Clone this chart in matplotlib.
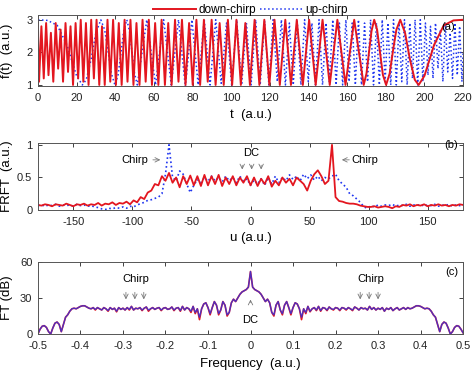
import numpy as np
import matplotlib
matplotlib.use('Agg')
import matplotlib.pyplot as plt

plt.rcParams['font.family'] = ['Liberation Sans', 'DejaVu Sans']
plt.rcParams['font.size'] = 8
plt.rcParams['axes.unicode_minus'] = False

# ---- panel (a): chirp signals, turning points ----
down_t = [0, 0.59, 1.80, 3.02, 4.24, 5.47, 6.71, 7.95, 9.20, 10.46, 11.73, 13.00, 14.28,
          15.57, 16.87, 18.17, 19.49, 20.81, 22.15, 23.49, 24.84, 26.20, 27.57, 28.95,
          30.34, 31.74, 33.15, 34.57, 36.00, 37.44, 38.90, 40.36, 41.84, 43.33, 44.84,
          46.35, 47.88, 49.43, 50.99, 52.56, 54.14, 55.75, 57.37, 59.00, 60.65, 62.32,
          64.00, 65.71, 67.43, 69.18, 70.94, 72.73, 74.54, 76.37, 78.22, 80.10, 82.00,
          83.93, 85.89, 87.87, 89.89, 91.94, 94.02, 96.14, 98.30, 100.49, 102.72, 105.00,
          107.32, 109.70, 112.12, 114.60, 117.14, 119.75, 122.42, 125.17, 128.00, 130.92,
          133.94, 137.07, 140.33, 143.72, 147.27, 151.00, 154.95, 159.15, 163.66, 168.57,
          170.0, 172.6, 174.0, 175.5, 177.0, 178.5, 180.16, 182.0, 184.0, 185.5, 187.47,
          190.0, 192.5, 195.0, 197.0, 200.0, 205.0, 210.0, 215.0, 220.0]
down_f = [2.9, 1.1, 2.8, 1.2, 2.9, 1.3, 2.6, 1.1, 2.9, 1.5, 2.7, 1.1, 2.9,
          1.4, 2.8, 1.0, 2.9, 1.2, 3.0, 1.1, 2.9, 1.0, 3.0, 1.2,
          3.0, 1.0, 2.8, 1.0, 3.0, 1.1, 3.0, 1.0, 2.9, 1.0, 3.0,
          1.1, 3.0, 1.0, 2.9, 1.0, 3.0, 1.1, 3.0, 1.0, 2.9, 1.0,
          3.0, 1.0, 2.9, 1.0, 3.0, 1.1, 3.0, 1.0, 2.9, 1.0, 3.0,
          1.0, 3.0, 1.1, 3.0, 1.0, 2.9, 1.0, 3.0, 1.0, 3.0, 1.0,
          2.9, 1.0, 3.0, 1.0, 3.0, 1.0, 3.0, 1.0, 3.0, 1.0,
          3.0, 1.0, 3.0, 1.0, 3.0, 1.0, 3.0, 1.0, 3.0, 1.0,
          1.35, 2.65, 3.0, 2.70, 2.0, 1.31, 1.0, 1.35, 2.16, 2.70, 3.0,
          2.59, 1.78, 1.16, 1.0, 1.28, 2.23, 2.83, 2.98, 3.0]

up_t = [0, 5, 10, 15, 20, 23.0, 25, 27.5, 30, 32.53, 34.5, 36, 38, 39.84, 41.5, 43, 44.5,
        46.0, 47.4, 50, 51.43, 56.34, 60.85, 65.05, 69.00, 72.73, 76.28, 79.67, 82.93,
        86.06, 89.08, 92.00, 94.83, 97.58, 100.25, 102.86, 105.40, 107.88, 110.30, 112.68,
        115.00, 117.28, 119.51, 121.70, 123.86, 125.98, 128.06, 130.11, 132.13, 134.11,
        136.07, 138.00, 139.90, 141.78, 143.63, 145.46, 147.27, 149.06, 150.82, 152.57,
        154.29, 156.00, 157.68, 159.35, 161.00, 162.63, 164.25, 165.86, 167.44, 169.01,
        170.57, 172.12, 173.65, 175.16, 176.67, 178.16, 179.64, 181.10, 182.56, 184.00,
        185.43, 186.85, 188.26, 189.66, 191.05, 192.43, 193.80, 195.16, 196.51, 197.85,
        199.19, 200.51, 201.83, 203.13, 204.43, 205.72, 207.00, 208.27, 209.54, 210.80,
        212.05, 213.29, 214.53, 215.76, 216.98, 218.20, 219.41, 220.0]
up_f = [3.0, 2.98, 2.83, 2.23, 1.28, 1.0, 1.16, 1.78, 2.59, 3.0, 2.70, 2.16, 1.35, 1.0, 1.31, 2.0, 2.70,
        3.0, 2.65, 1.35, 1.0, 3.0, 1.0, 3.0, 1.0, 3.0, 0.95, 3.0, 1.0,
        3.0, 1.0, 3.0, 1.05, 2.9, 1.0, 3.0, 1.0, 2.9, 1.0, 3.0,
        1.0, 2.95, 1.0, 3.0, 1.1, 3.0, 1.0, 2.9, 1.0, 3.0,
        1.0, 3.0, 1.1, 2.9, 1.0, 3.0, 1.0, 2.9, 1.1, 3.0,
        1.0, 2.9, 1.0, 3.0, 1.1, 2.9, 1.0, 3.0, 1.0, 2.9,
        1.1, 3.0, 1.0, 2.9, 1.0, 3.0, 1.1, 2.9, 1.0, 3.0,
        1.0, 2.9, 1.1, 3.0, 1.0, 2.9, 1.2, 3.0, 1.0, 3.0,
        1.1, 2.9, 1.3, 2.8, 1.2, 2.9, 1.5, 2.7, 1.1, 2.9,
        1.4, 2.6, 1.2, 2.9, 1.3, 2.8, 1.1, 2.0]

# ---- panel (b): FRFT magnitude, u = -180 ... 180 step 3 ----
frft_red = [0.08, 0.07, 0.09, 0.08, 0.06, 0.09, 0.08, 0.07, 0.10, 0.08, 0.06, 0.09, 0.08,
            0.10, 0.07, 0.09, 0.08, 0.11, 0.07, 0.10, 0.09, 0.12, 0.08, 0.11, 0.10, 0.13, 0.09,
            0.15, 0.12, 0.20, 0.17, 0.27, 0.30, 0.40, 0.38, 0.52, 0.45, 0.57, 0.42, 0.50,
            0.35, 0.52, 0.40, 0.53, 0.38, 0.52, 0.37, 0.54, 0.38, 0.52, 0.40, 0.54, 0.37,
            0.50, 0.40, 0.52, 0.38, 0.50, 0.42, 0.52, 0.38, 0.50, 0.37, 0.48, 0.40, 0.52,
            0.36, 0.45, 0.38, 0.50, 0.42, 0.48, 0.38, 0.50, 0.45, 0.40, 0.30, 0.45, 0.55,
            0.61, 0.52, 0.40, 0.45, 1.00, 0.20, 0.14, 0.13, 0.11, 0.10, 0.10, 0.09, 0.07,
            0.06, 0.05, 0.05, 0.06, 0.04, 0.05, 0.06, 0.05, 0.03, 0.06, 0.05, 0.08, 0.07,
            0.09, 0.06, 0.08, 0.07, 0.09, 0.06, 0.08, 0.07, 0.09, 0.07, 0.08, 0.06, 0.08,
            0.07, 0.09, 0.08]
frft_blue = [0.07, 0.08, 0.06, 0.08, 0.07, 0.09, 0.06, 0.08, 0.07, 0.08, 0.06, 0.09, 0.07,
             0.08, 0.06, 0.07, 0.05, 0.04, 0.02, 0.01, 0.03, 0.02, 0.04, 0.03, 0.05, 0.03,
             0.06, 0.05, 0.08, 0.10, 0.12, 0.15, 0.16, 0.18, 0.20, 0.25, 0.55, 1.00, 0.50,
             0.45, 0.60, 0.55, 0.40, 0.27, 0.38, 0.47, 0.42, 0.50, 0.44, 0.52, 0.45, 0.50,
             0.43, 0.52, 0.45, 0.50, 0.42, 0.52, 0.44, 0.48, 0.38, 0.46, 0.40, 0.48, 0.38,
             0.50, 0.40, 0.52, 0.42, 0.50, 0.45, 0.54, 0.47, 0.52, 0.45, 0.55, 0.48, 0.54,
             0.46, 0.52, 0.45, 0.50, 0.48, 0.52, 0.55, 0.45, 0.40, 0.35, 0.25, 0.22, 0.17,
             0.12, 0.05, 0.03, 0.07, 0.05, 0.08, 0.06, 0.08, 0.07, 0.09, 0.06, 0.08, 0.07,
             0.09, 0.06, 0.08, 0.07, 0.09, 0.06, 0.08, 0.07, 0.09, 0.06, 0.08, 0.07, 0.09,
             0.06, 0.08, 0.07, 0.08]

# ---- panel (c): FT in dB, f = -0.5 ... 0.5 step 0.005 ----
ft_blue = [0, 4, 6.5, 7, 5.5, 2, 0, 5, 9, 10, 8, 2, 8, 14, 16, 19, 21, 21.5, 21, 22,
           23, 23.5, 23.5, 22.5, 21.5, 21, 22, 20.5, 22, 21, 20, 22, 21, 19.5, 22, 20.5,
           21.5, 19, 22, 20.5, 21.5, 20, 22, 20.5, 23, 20, 21.5, 21, 22, 20, 21.5, 22.5,
           20, 21, 22, 20.5, 21.5, 22, 20, 21.5, 22, 20.5, 21, 22.5, 20, 21.5, 22, 19.5,
           23, 20, 22, 21, 19, 23, 18, 21, 14, 21, 25, 26, 22, 17, 22, 27, 24, 17, 20,
           27, 24, 16, 18, 26, 29, 27, 30, 33, 35, 36, 37, 39,
           52,
           39, 37, 36, 35, 33, 30, 27, 29, 26, 18, 16, 24, 27, 20, 17, 24, 27, 22, 17,
           22, 26, 25, 21, 14, 21, 18, 23, 19, 21, 22, 20, 23, 19.5, 22, 21.5, 20, 22.5,
           21, 20.5, 22, 21.5, 20, 22, 21.5, 20.5, 22, 21, 20, 22.5, 21.5, 20, 22, 21,
           21.5, 20, 23, 20.5, 22, 20, 21.5, 20.5, 22, 19, 21.5, 20.5, 22, 19.5, 21, 22,
           20, 21, 22, 20.5, 22, 21, 21.5, 22.5, 23.5, 23.5, 23, 22, 21, 21.5, 21, 19,
           16, 14, 8, 2, 8, 10, 9, 5, 0, 2, 5.5, 7, 6.5, 4, 1]
ft_red = [0, 4, 6.5, 7, 5.5, 2, 0, 5, 9, 10, 8, 2, 8, 14, 16, 19, 21, 21.5, 21, 22,
          23, 23.5, 23.5, 22.5, 21.5, 21, 22, 20, 22, 21, 20, 22, 21, 19, 22, 20.5,
          21.5, 18.5, 22, 20.5, 21.5, 20, 22, 20, 23, 20, 21.5, 21, 22, 19.5, 21.5, 22.5,
          19, 21, 22, 20.5, 21.5, 22, 19.5, 21.5, 22, 20.5, 21, 22.5, 19.5, 21.5, 22, 19,
          23, 20, 22, 21, 18, 23, 17, 21, 12, 21, 25, 26, 22, 16, 22, 27, 24, 16, 20,
          27, 24, 15, 18, 26, 29, 27, 30, 33, 35, 36, 37, 39,
          52,
          39, 37, 36, 35, 33, 30, 27, 29, 26, 18, 15, 24, 27, 20, 16, 24, 27, 22, 16,
          22, 26, 25, 21, 12, 21, 17, 23, 18.5, 21, 22, 19.5, 23, 19, 22, 21.5, 19.5, 22.5,
          21, 20, 22, 21.5, 19.5, 22, 21.5, 20, 22, 21, 19.5, 22.5, 21.5, 20, 22, 21,
          21.5, 20, 23, 20.5, 22, 20, 21.5, 20.5, 22, 19, 21.5, 20.5, 22, 19.5, 21, 22,
          20, 21, 22, 20.5, 22, 21, 21.5, 22.5, 23.5, 23.5, 23, 22, 21, 21.5, 21, 19,
          16, 14, 8, 2, 8, 10, 9, 5, 0, 2, 5.5, 7, 6.5, 4, 1]

u = np.arange(-180, 181, 3)
freq = np.round(np.arange(-0.5, 0.5001, 0.005), 3)
assert len(u) == len(frft_red) == len(frft_blue), (len(u), len(frft_red), len(frft_blue))
assert len(freq) == len(ft_red) == len(ft_blue), (len(freq), len(ft_red), len(ft_blue))
assert len(down_t) == len(down_f) and len(up_t) == len(up_f), (len(down_t), len(down_f), len(up_t), len(up_f))

RED = '#e3161f'
BLUE = '#1f35f0'
ARROW = '#777777'

fig = plt.figure(figsize=(4.74, 3.72), dpi=100)
ax_a = fig.add_axes([0.080, 0.769, 0.897, 0.191])
ax_b = fig.add_axes([0.080, 0.435, 0.897, 0.181])
ax_c = fig.add_axes([0.080, 0.102, 0.897, 0.194])

for ax in (ax_a, ax_b, ax_c):
    ax.tick_params(direction='in', top=True, right=True, length=3, width=0.6,
                   labelsize=8, colors='#222222', pad=4)
    ax.tick_params(axis='x', pad=5)
    for s in ax.spines.values():
        s.set_color('#555555')
        s.set_linewidth(0.7)

# (a)
ax_a.plot(up_t, up_f, ':', color=BLUE, lw=1.1, label='up-chirp')
ax_a.plot(down_t, down_f, '-', color=RED, lw=1.4, label='down-chirp')
ax_a.set_xlim(0, 220)
ax_a.set_ylim(0.97, 3.15)
ax_a.set_xticks(np.arange(0, 221, 20))
ax_a.set_yticks([1, 2, 3])
ax_a.set_xlabel('t  (a.u.)', fontsize=9.5)
ax_a.set_ylabel('f(t)  (a.u.)', fontsize=9.5)
ax_a.xaxis.set_label_coords(0.5, -0.33)
ax_a.yaxis.set_label_coords(-0.058, 0.5)
ax_a.text(216, 2.78, '(a)', fontsize=8, ha='right', va='center')
h, l = ax_a.get_legend_handles_labels()
ax_a.legend(h[::-1], l[::-1], loc='lower center', bbox_to_anchor=(0.5, 0.97), ncol=2,
            frameon=False, fontsize=8.5, handlelength=3.6, handletextpad=0.2,
            columnspacing=0.4, borderaxespad=0, borderpad=0.1)

# (b)
ax_b.plot(u, frft_blue, ':', color=BLUE, lw=1.2)
ax_b.plot(u, frft_red, '-', color=RED, lw=1.3)
ax_b.set_xlim(-180, 180)
ax_b.set_ylim(0, 1.03)
ax_b.set_xticks([-150, -100, -50, 0, 50, 100, 150])
ax_b.set_yticks([0, 0.5, 1])
ax_b.set_yticklabels(['0', '0.5', '1'])
ax_b.set_xlabel('u (a.u.)', fontsize=9.5)
ax_b.set_ylabel('FRFT  (a.u.)', fontsize=9.5)
ax_b.xaxis.set_label_coords(0.5, -0.33)
ax_b.yaxis.set_label_coords(-0.058, 0.5)
ax_b.text(-98, 0.77, 'Chirp', fontsize=8, ha='center', va='center')
ax_b.annotate('', xy=(-74, 0.77), xytext=(-85, 0.77),
              arrowprops=dict(arrowstyle='->', color=ARROW, lw=0.6))
ax_b.text(0.5, 0.88, 'DC', fontsize=8, ha='center', va='center')
for x in (-7, 1, 9):
    ax_b.annotate('', xy=(x, 0.58), xytext=(x, 0.73),
                  arrowprops=dict(arrowstyle='->', color=ARROW, lw=0.6))
ax_b.annotate('', xy=(75, 0.77), xytext=(86, 0.77),
              arrowprops=dict(arrowstyle='->', color=ARROW, lw=0.6))
ax_b.text(97, 0.77, 'Chirp', fontsize=8, ha='center', va='center')
ax_b.text(176, 0.99, '(b)', fontsize=8, ha='right', va='center')

# (c)
ax_c.plot(freq, ft_red, '-', color=RED, lw=1.2)
ax_c.plot(freq, ft_blue, '-', color=BLUE, lw=1.0, alpha=0.75)
ax_c.set_xlim(-0.5, 0.5)
ax_c.set_ylim(0, 60)
ax_c.set_xticks(np.round(np.arange(-0.5, 0.51, 0.1), 1))
ax_c.set_xticklabels(['-0.5', '-0.4', '-0.3', '-0.2', '-0.1', '0', '0.1', '0.2', '0.3', '0.4', '0.5'])
ax_c.set_yticks([0, 30, 60])
ax_c.set_xlabel('Frequency  (a.u.)', fontsize=9.5)
ax_c.set_ylabel('FT (dB)', fontsize=9.5)
ax_c.xaxis.set_label_coords(0.5, -0.33)
ax_c.yaxis.set_label_coords(-0.058, 0.5)
ax_c.text(-0.27, 46, 'Chirp', fontsize=8, ha='center', va='center')
ax_c.text(0.283, 46, 'Chirp', fontsize=8, ha='center', va='center')
for x in (-0.293, -0.272, -0.251, 0.258, 0.279, 0.300):
    ax_c.annotate('', xy=(x, 26.5), xytext=(x, 37),
                  arrowprops=dict(arrowstyle='->', color=ARROW, lw=0.6))
ax_c.annotate('', xy=(0, 31), xytext=(0, 24),
              arrowprops=dict(arrowstyle='->', color=ARROW, lw=0.6))
ax_c.text(0, 12, 'DC', fontsize=8, ha='center', va='center')
ax_c.text(0.49, 52, '(c)', fontsize=8, ha='right', va='center')

fig.savefig('out.png', dpi=100)
